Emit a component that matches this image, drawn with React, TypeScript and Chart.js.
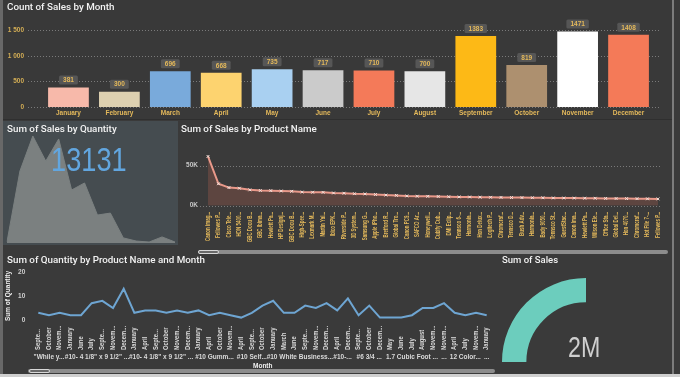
import React, { useEffect, useRef } from "react";
import { Chart, registerables } from "chart.js";

Chart.register(...registerables);

const FONT = '"Liberation Sans", Arial, sans-serif';
const YELLOW = "#e4b95b";

// ---- Count of Sales by Month ----
const months = ["January", "February", "March", "April", "May", "June", "July", "August", "September", "October", "November", "December"];
const monthCounts = [381, 300, 696, 668, 735, 717, 710, 700, 1383, 819, 1471, 1408];
const monthColors = ["#f7b9aa", "#ddd0b0", "#79aadb", "#fdd36f", "#a9d0f1", "#cbcbcb", "#f47a59", "#e6e6e6", "#fdb916", "#ad906f", "#ffffff", "#f47a58"];
const monthTicks = [0, 500, 1000, 1500];
const monthTickLabels = ["0", "500", "1 000", "1 500"];

// ---- Sum of Sales by Quantity ----
const quantityLevels = [1, 2, 3, 4, 5, 6, 7, 8, 9, 10, 11, 12, 13, 14];
const salesByQuantity = [5, 296, 440, 337, 428, 218, 247, 115, 123, 21, 8, 4, 25, 4];
const quantityCardValue = "13131";

// ---- Sum of Sales by Product Name ----
const productNames = [
  "Canon imag...", "Fellowes P...", "Cisco Tele...", "HON 5400...", "GBC Docu B...", "GBC Ibima...", "Hewlett Pa...", "HP Designj...",
  "GBC Docu B...", "High-Spee...", "Lexmark M...", "Martin Yal...", "Ibico EPK...", "Riverside P...", "3D System...", "Samsung G...",
  "Apple iPho...", "Bretford R...", "Global Tro...", "Canon PC9...", "SAFCO Ar...", "Honeywell...", "Cubify Cub...", "DMI Eclip...",
  "Tennsco 6-...", "Harmonia...", "Hon Delux...", "Logitech P...", "Chromcraf...", "Tennsco D...", "Bush Adv...", "Harmonia...",
  "Bady 9050...", "Tennsco St...", "GuestStac...", "Canon Ima...", "Hewlett Pa...", "Wilson Ele...", "Office Sta...", "Global Del...",
  "Hon 4070...", "Chromcraf...", "Hot File 7-...", "Fellowes P...",
];
const productSales = [
  61600, 27450, 22640, 21870, 19820, 19020, 18840, 18370, 17970, 17030, 16830, 16660, 15880, 15610, 15000, 14750,
  14000, 13300, 12900, 12200, 11900, 11700, 11500, 11200, 11000, 10900, 10700, 10500, 10400, 10200, 10100, 10000,
  9900, 9700, 9600, 9500, 9400, 9300, 9100, 9000, 8900, 8800, 8600, 8500,
];
const productTicks = [0, 50000];

// ---- Sum of Quantity by Product Name and Month ----
const qtyMonths = [
  "Septe...", "October", "Novem...", "January", "June", "July", "Septe...", "Novem...", "Decem...", "January", "April",
  "Septe...", "October", "Novem...", "Decem...", "January", "April", "October", "Novem...", "April", "Septe...", "October",
  "January", "March", "June", "Septe...", "Novem...", "Decem...", "April", "Decem...", "Septe...", "October", "Decem...",
  "May", "June", "July", "August", "Novem...", "Novem...", "April", "July", "Novem...", "January",
];
const qtyValues = [3, 2, 3, 2, 2, 7, 8, 5, 13, 3, 4, 4, 3, 4, 3, 4, 2, 3, 2, 1, 3, 6, 8, 3, 3, 6, 5, 7, 4, 9, 2, 6, 1, 1, 1, 2, 5, 5, 7, 3, 2, 3, 2];
const qtyGroupLabels = ["\"While y...", "#10- 4 1/8\" x 9 1/2\" ...", "#10- 4 1/8\" x 9 1/2\" ...", "#10 Gumm...", "#10 Self...", "#10 White Business...", "#10-...", "#6 3/4 ...", "1.7 Cubic Foot ...", "...", "12 Color...", "..."];
const qtyGroupStart = [0, 3, 9, 15, 19, 22, 28, 30, 33, 38, 39, 42];
const qtyGroupEnd = [2, 8, 14, 18, 21, 27, 29, 32, 37, 38, 41, 42];
const qtyTicks = [0, 10, 20];

// ---- Sum of Sales gauge ----
const salesTotal = 2297201;
const gaugeMax = 4594402;
const salesTotalLabel = "2M";

const dottedGrid = (x1: number, x2: number, color: string, ticks: number[]) => ({
  id: "dottedGrid",
  beforeDatasetsDraw(chart: any) {
    const { ctx } = chart;
    const y = chart.scales.y;
    ctx.save();
    ctx.strokeStyle = color;
    ctx.lineWidth = 1;
    ctx.setLineDash([1, 2]);
    ticks.forEach((v) => {
      const py = Math.round(y.getPixelForValue(v)) + 0.5;
      ctx.beginPath();
      ctx.moveTo(x1, py);
      ctx.lineTo(x2, py);
      ctx.stroke();
    });
    ctx.restore();
  },
});

const barLabels = {
  id: "barLabels",
  afterDatasetsDraw(chart: any) {
    const ctx = chart.ctx;
    const meta = chart.getDatasetMeta(0);
    const ys = chart.scales.y;
    const bottom = chart.chartArea.bottom;
    ctx.save();
    ctx.font = `bold 6.5px ${FONT}`;
    ctx.textBaseline = "middle";
    ctx.textAlign = "right";
    ctx.fillStyle = "#d3ad55";
    monthTicks.forEach((v, i) => ctx.fillText(monthTickLabels[i], 24, ys.getPixelForValue(v)));
    ctx.textAlign = "center";
    meta.data.forEach((bar: any, i: number) => {
      const t = String(monthCounts[i]);
      const w = ctx.measureText(t).width + 8;
      const h = 9;
      const x = bar.x;
      const y = bar.y - 7.5;
      ctx.fillStyle = "#565656";
      ctx.beginPath();
      ctx.roundRect(x - w / 2, y - h / 2, w, h, 1.5);
      ctx.fill();
      ctx.fillStyle = YELLOW;
      ctx.fillText(t, x, y + 0.5);
      ctx.fillText(months[i], x, bottom + 6);
    });
    ctx.restore();
  },
};

const productLabels = {
  id: "productLabels",
  afterDraw(chart: any) {
    const ctx = chart.ctx;
    const xs = chart.scales.x;
    const top = chart.chartArea.bottom + 6;
    ctx.save();
    ctx.font = `bold 6.6px ${FONT}`;
    ctx.fillStyle = YELLOW;
    productNames.forEach((p, i) => {
      const x = xs.getPixelForValue(i);
      ctx.save();
      ctx.translate(x, top);
      ctx.rotate(-Math.PI / 2);
      ctx.scale(0.68, 1);
      ctx.textAlign = "right";
      ctx.textBaseline = "middle";
      ctx.fillText(p, 0, 0);
      ctx.restore();
    });
    ctx.restore();
  },
};

const hierLabels = {
  id: "hierLabels",
  afterDraw(chart: any) {
    const ctx = chart.ctx;
    const xs = chart.scales.x;
    ctx.save();
    ctx.font = `bold 6.5px ${FONT}`;
    ctx.fillStyle = "#dadada";
    qtyMonths.forEach((m, i) => {
      const x = xs.getPixelForValue(i);
      ctx.save();
      ctx.translate(x, 98);
      ctx.rotate(-Math.PI / 2);
      ctx.scale(0.9, 1);
      ctx.textAlign = "left";
      ctx.textBaseline = "middle";
      ctx.fillText(m, 0, 0);
      ctx.restore();
    });
    ctx.textAlign = "center";
    ctx.textBaseline = "middle";
    qtyGroupLabels.forEach((g, i) => {
      const x = (xs.getPixelForValue(qtyGroupStart[i]) + xs.getPixelForValue(qtyGroupEnd[i])) / 2;
      ctx.fillText(g, x, 105);
    });
    ctx.restore();
  },
};

const base = {
  animation: false,
  responsive: true,
  maintainAspectRatio: false,
  devicePixelRatio: 1,
};

export default function App() {
  const c1 = useRef<HTMLCanvasElement>(null);
  const c2 = useRef<HTMLCanvasElement>(null);
  const c3 = useRef<HTMLCanvasElement>(null);
  const c4 = useRef<HTMLCanvasElement>(null);
  const c5 = useRef<HTMLCanvasElement>(null);

  useEffect(() => {
    const charts: Chart[] = [];
    charts.push(
      new Chart(c1.current!, {
        type: "bar",
        data: {
          labels: months,
          datasets: [{ data: monthCounts, backgroundColor: monthColors, borderWidth: 0, barPercentage: 0.8, categoryPercentage: 1 }],
        },
        options: {
          ...base,
          layout: { padding: { top: 25, right: 18, left: 43, bottom: 13 } },
          plugins: { legend: { display: false }, tooltip: { enabled: false } },
          scales: {
            x: { display: false },
            y: { display: false, min: 0, max: 1600 },
          },
        } as any,
        plugins: [dottedGrid(28, 660, "#7a7a7a", monthTicks), barLabels],
      })
    );

    charts.push(
      new Chart(c2.current!, {
        type: "line",
        data: {
          labels: quantityLevels,
          datasets: [{ data: salesByQuantity, borderColor: "#7b8080", borderWidth: 1, backgroundColor: "#7b8080", fill: "origin", pointRadius: 0, tension: 0 }],
        },
        options: {
          ...base,
          layout: { padding: { top: 0, right: 3, left: 4, bottom: 2 } },
          plugins: { legend: { display: false }, tooltip: { enabled: false } },
          scales: { x: { display: false }, y: { display: false, min: 0, max: 506 } },
        } as any,
      })
    );

    charts.push(
      new Chart(c3.current!, {
        type: "line",
        data: {
          labels: productNames,
          datasets: [{
            data: productSales,
            borderColor: "#e9998a",
            borderWidth: 2,
            backgroundColor: "#5d4540",
            fill: "origin",
            tension: 0,
            pointStyle: "crossRot",
            pointRadius: 2,
            pointBorderColor: "#f6e2dc",
            pointBorderWidth: 1,
          }],
        },
        options: {
          ...base,
          layout: { padding: { top: 25.7, right: 10, left: 0, bottom: 52.3 } },
          plugins: { legend: { display: false }, tooltip: { enabled: false } },
          scales: {
            x: { display: false, offset: false },
            y: {
              min: 0,
              max: 75000,
              grid: { display: false, drawTicks: false },
              border: { display: false },
              afterBuildTicks: (s: any) => { s.ticks = productTicks.map((v) => ({ value: v })); },
              ticks: { color: "#c8c8c8", font: { family: FONT, size: 6.5, weight: "bold" }, padding: 10, callback: (v: any) => `${Math.round(Number(v) / 1000)}K` },
              afterFit: (s: any) => { s.width = 30; },
            },
          },
        } as any,
        plugins: [dottedGrid(22, 482, "#7a7a7a", productTicks), productLabels],
      })
    );

    charts.push(
      new Chart(c4.current!, {
        type: "line",
        data: {
          labels: qtyMonths,
          datasets: [{ data: qtyValues, borderColor: "#6ea5d2", borderWidth: 2, pointRadius: 0, tension: 0, fill: false }],
        },
        options: {
          ...base,
          layout: { padding: { top: 20, right: 8.3, left: 0, bottom: 0 } },
          plugins: { legend: { display: false }, tooltip: { enabled: false } },
          scales: {
            x: {
              offset: false,
              grid: { display: false, drawTicks: false },
              border: { display: false },
              ticks: { display: false },
              afterFit: (s: any) => { s.height = 50; },
            },
            y: {
              min: 0,
              max: 20,
              grid: { display: false, drawTicks: false },
              border: { display: false },
              afterBuildTicks: (s: any) => { s.ticks = qtyTicks.map((v) => ({ value: v })); },
              ticks: { color: "#d0d0d0", font: { family: FONT, size: 6.5, weight: "bold" }, padding: 13 },
              title: { display: true, text: "Sum of Quantity", color: "#f0f0f0", font: { family: FONT, size: 6.5, weight: "bold" }, padding: { top: 4, bottom: 0 } },
              afterFit: (s: any) => { s.width = 38.3; },
            },
          },
        } as any,
        plugins: [hierLabels],
      })
    );

    charts.push(
      new Chart(c5.current!, {
        type: "doughnut",
        data: {
          labels: ["Sum of Sales", ""],
          datasets: [{ data: [salesTotal, gaugeMax - salesTotal], backgroundColor: ["#6ccdbd", "rgba(0,0,0,0)"], borderWidth: 0 }],
        },
        options: {
          ...base,
          circumference: 180,
          rotation: -90,
          cutout: "71%",
          layout: { padding: 0 },
          plugins: { legend: { display: false }, tooltip: { enabled: false } },
        } as any,
      })
    );

    return () => charts.forEach((c) => c.destroy());
  }, []);

  const abs = (l: number, t: number, w: number, h: number, extra: any = {}) => ({ position: "absolute" as const, left: l, top: t, width: w, height: h, ...extra });
  const box = (ref: any, l: number, t: number, w: number, h: number) => (
    <div style={abs(l, t, w, h)}>
      <canvas ref={ref} />
    </div>
  );
  const title = (l: number, t: number, text: string, size = 9.8) => (
    <div style={{ position: "absolute", left: l, top: t, color: "#f2f2f2", fontFamily: "Roboto, " + FONT, fontSize: size, lineHeight: "12px", whiteSpace: "nowrap", fontWeight: 500 }}>{text}</div>
  );
  const bigNum = (l: number, t: number, size: number, color: string, text: string) => (
    <div style={{ position: "absolute", left: l, top: t, color, fontFamily: FONT, fontSize: size, lineHeight: `${size}px`, transform: "scaleX(0.8)", transformOrigin: "left top", whiteSpace: "nowrap" }}>{text}</div>
  );

  return (
    <div style={{ position: "fixed", left: 0, top: 0, width: 680, height: 377, background: "#3a3a3a", overflow: "hidden" }}>
      <div style={abs(0, 0, 672, 119, { background: "#393939" })} />
      <div style={abs(0, 119, 672, 1, { background: "#2f2f2f" })} />
      <div style={abs(3, 121, 175, 124, { background: "#454c50" })} />
      <div style={abs(0, 0, 3, 377, { background: "#686868" })} />
      <div style={abs(672, 0, 2, 377, { background: "#7c7c7c" })} />
      <div style={abs(0, 374, 680, 3, { background: "#cfcfcf" })} />

      {box(c1, 0, 0, 672, 120)}
      {box(c2, 3, 120, 175, 125)}
      {box(c3, 178, 120, 490, 138)}
      {box(c4, 0, 252, 495, 118)}
      {box(c5, 502, 278, 168, 84)}

      {title(7, 1, "Count of Sales by Month")}
      {title(7, 123, "Sum of Sales by Quantity")}
      {title(181, 123, "Sum of Sales by Product Name")}
      {title(7, 254, "Sum of Quantity by Product Name and Month")}
      {title(502, 254, "Sum of Sales", 9.5)}

      {bigNum(51, 141.6, 34, "#62a6df", quantityCardValue)}
      {bigNum(568, 333, 29, "#cfcfcf", salesTotalLabel)}
      <div style={{ position: "absolute", left: 253, top: 362, color: "#f0f0f0", fontFamily: FONT, fontSize: 6.5, fontWeight: "bold", lineHeight: "8px" }}>Month</div>

      <div style={abs(198, 250, 470, 4, { background: "#8c8c8c", borderRadius: 2 })} />
      <div style={abs(198, 250, 21, 4, { background: "#6a6a6a", border: "1px solid #d8d8d8", borderRadius: 2, boxSizing: "border-box" })} />
      <div style={abs(28, 369, 467, 4, { background: "#8c8c8c", borderRadius: 2 })} />
      <div style={abs(29, 369, 21, 4, { background: "#6a6a6a", border: "1px solid #d8d8d8", borderRadius: 2, boxSizing: "border-box" })} />
    </div>
  );
}
